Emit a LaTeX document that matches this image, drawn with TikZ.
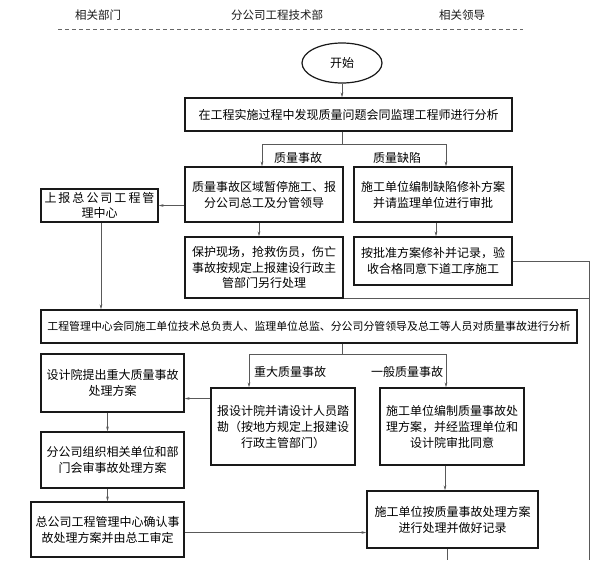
\documentclass[tikz,border=0pt]{standalone}
\usepackage{fontspec}
\setmainfont{Noto Sans CJK SC}
\usetikzlibrary{arrows.meta,shapes.geometric}
\begin{document}
\begin{tikzpicture}[x=1pt,y=-1pt,
  box/.style={draw=black!90,line width=1.2pt,inner sep=0pt,align=center,text=black,
    font=\fontsize{12}{16}\selectfont},
  conn/.style={draw=black!65,line width=0.6pt},
  arr/.style={conn,-{Stealth[length=5pt,width=2.6pt]}},
  lbl/.style={font=\fontsize{12}{14}\selectfont,text=black,inner sep=0pt},
  hdr/.style={font=\fontsize{11.5}{13}\selectfont,text=black!90,inner sep=0pt}]
\useasboundingbox (0,0) rectangle (596,560);
% headers
\node[hdr] (h1) at (98,15) {相关部门};
\node[hdr] (h2) at (277,15) {分公司工程技术部};
\node[hdr] (h3) at (462,15) {相关领导};
\coordinate (dl) at (58,29);
\coordinate (dr) at (523,29);
\draw[draw=black!60,line width=0.5pt,dash pattern=on 4pt off 3pt] (dl) -- (dr);
% nodes
\node[draw=black!90,line width=1.2pt,ellipse,minimum width=80pt,minimum height=40pt,inner sep=0pt,
  font=\fontsize{12}{14}\selectfont] (start) at (342,63) {开始};
\node[box,minimum width=327pt,minimum height=33pt] (b1) at (348.5,114.5) {在工程实施过程中发现质量问题会同监理工程师进行分析};
\node[box,minimum width=158pt,minimum height=55pt] (b2a) at (264,194.5) {质量事故区域暂停施工、报\\分公司总工及分管领导};
\node[box,minimum width=158pt,minimum height=55pt] (b2b) at (433,194.5) {施工单位编制缺陷修补方案\\并请监理单位进行审批};
\node[box,minimum width=117pt,minimum height=33pt,font=\fontsize{12}{15}\selectfont] (bl) at (99.5,205.5) {上\,报\,总\,公\,司\,工\,程\,管\\理中心};
\node[box,minimum width=158pt,minimum height=61pt,font=\fontsize{12}{15.5}\selectfont] (b3a) at (264,267.5) {保护现场，抢救伤员，伤亡\\事故按规定上报建设行政主\\管部门另行处理};
\node[box,minimum width=158pt,minimum height=48pt] (b3b) at (433,261) {按批准方案修补并记录，验\\收合格同意下道工序施工};
\node[box,minimum width=536pt,minimum height=33pt,font=\fontsize{10.9}{13}\selectfont] (b4) at (309,326.5) {工程管理中心会同施工单位技术总负责人、监理单位总监、分公司分管领导及总工等人员对质量事故进行分析};
\node[box,minimum width=143pt,minimum height=58pt] (bd) at (112.5,383) {设计院提出重大质量事故\\处理方案};
\node[box,minimum width=144pt,minimum height=77pt] (bz) at (283,426.5) {报设计院并请设计人员踏\\勘（按地方规定上报建设\\行政主管部门）};
\node[box,minimum width=144pt,minimum height=77pt] (by) at (452,426.5) {施工单位编制质量事故处\\理方案，并经监理单位和\\设计院审批同意};
\node[box,minimum width=143pt,minimum height=56pt] (bf) at (112.5,460) {分公司组织相关单位和部\\门会审事故处理方案};
\node[box,minimum width=153pt,minimum height=55pt] (bg) at (107.5,529.5) {总公司工程管理中心确认事\\故处理方案并由总工审定};
\node[box,minimum width=171pt,minimum height=57pt] (bfin) at (452.5,519.5) {施工单位按质量事故处理方案\\进行处理并做好记录};
% labels
\node[lbl] (l1) at (298,158) {质量事故};
\node[lbl] (l2) at (397,158) {质量缺陷};
\node[lbl] (l3) at (290,372) {重大质量事故};
\node[lbl] (l4) at (407,372) {一般质量事故};
% connectors
\draw[arr] (start.south) -- (start.south |- b1.north);
\coordinate (s1) at (342,144);
\coordinate (s1l) at (262,144);
\coordinate (s1r) at (446,144);
\draw[conn] (b1.south -| s1) -- (s1);
\draw[conn] (s1l) -- (s1r);
\draw[arr] (s1l) -- (s1l |- b2a.north);
\draw[arr] (s1r) -- (s1r |- b2b.north);
\draw[arr] (b2a.west |- bl.east) -- (bl.east);
\draw[arr] ([xshift=-5pt]b2a.south) -- ([xshift=-5pt]b3a.north);
\draw[arr] ([xshift=3pt]b2b.south) -- ([xshift=3pt]b3b.north);
\draw[arr] ([xshift=1.5pt]bl.south) -- ([xshift=1.5pt]bl.south |- b4.north);
\coordinate (rr) at (589,560);
\draw[conn] (b3b.east) -| (rr);
\draw[conn] (b3a.south east) -- (b3a.south east -| rr);
\coordinate (s2) at (342,354);
\coordinate (s2l) at (249,354);
\coordinate (s2r) at (446,354);
\draw[conn] (b4.south -| s2) -- (s2);
\draw[conn] (s2l) -- (s2r);
\draw[arr] (s2l) -- (s2l |- bz.north);
\draw[arr] (s2r) -- (s2r |- by.north);
\draw[arr] ([yshift=28pt]bz.west) -- ([yshift=28pt]bz.west -| bd.east);
\draw[arr] ([xshift=-5pt]bd.south) -- ([xshift=-5pt]bd.south |- bf.north);
\draw[arr] ([xshift=-5pt]bf.south) -- ([xshift=-5pt]bf.south |- bg.north);
\draw[arr] ([yshift=-3pt]bg.east) -- ([yshift=-3pt]bg.east -| bfin.west);
\draw[arr] ([xshift=-7pt]by.south) -- ([xshift=-7pt]by.south |- bfin.north);
\coordinate (bend) at (447,560);
\draw[conn] (bfin.south -| bend) -- (bend);
\end{tikzpicture}
\end{document}
